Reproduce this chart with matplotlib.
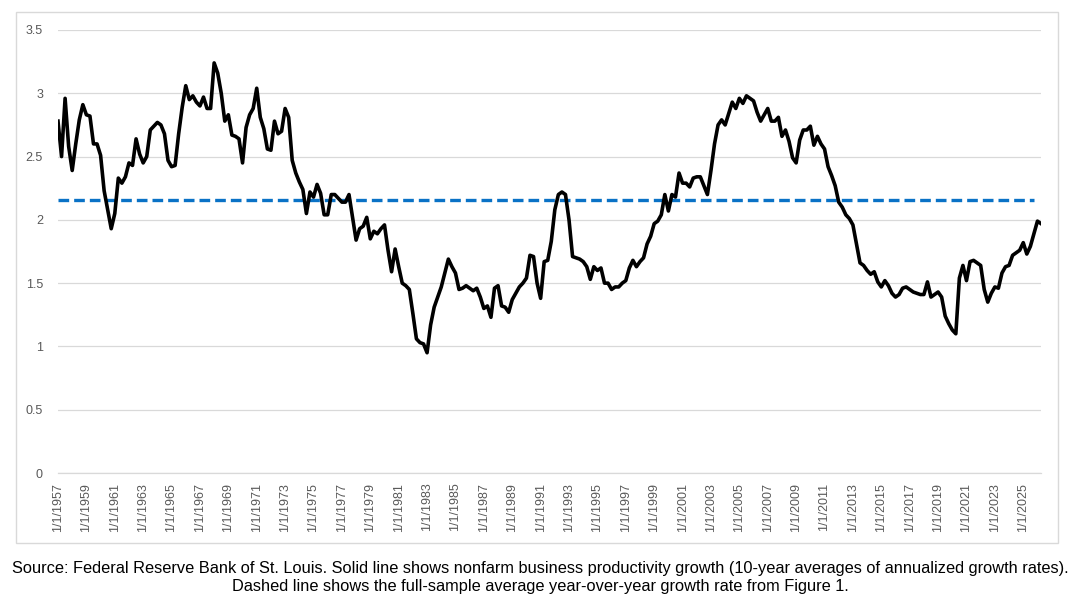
import numpy as np
import matplotlib.pyplot as plt
from matplotlib.patches import Rectangle

plt.rcParams['font.family'] = ['Liberation Sans', 'DejaVu Sans']

# 10-year average productivity growth, quarterly from 1957Q1
productivity = [
    2.78, 2.50, 2.96, 2.58, 2.39, 2.60, 2.79, 2.91,   # 1957-58
    2.83, 2.82, 2.60, 2.60, 2.51, 2.23, 2.08, 1.93,   # 1959-60
    2.05, 2.33, 2.29, 2.34, 2.45, 2.43, 2.64, 2.52,   # 1961-62
    2.45, 2.50, 2.71, 2.74, 2.77, 2.75, 2.68, 2.47,   # 1963-64
    2.42, 2.43, 2.68, 2.89, 3.06, 2.95, 2.98, 2.93,   # 1965-66
    2.90, 2.97, 2.88, 2.88, 3.24, 3.16, 3.00, 2.78,   # 1967-68
    2.83, 2.67, 2.66, 2.64, 2.45, 2.73, 2.83, 2.88,   # 1969-70
    3.04, 2.81, 2.72, 2.56, 2.55, 2.78, 2.68, 2.70,   # 1971-72
    2.88, 2.81, 2.47, 2.37, 2.30, 2.24, 2.05, 2.22,   # 1973-74
    2.18, 2.28, 2.21, 2.04, 2.04, 2.20, 2.20, 2.17,   # 1975-76
    2.14, 2.14, 2.20, 2.02, 1.84, 1.93, 1.95, 2.02,   # 1977-78
    1.85, 1.91, 1.89, 1.93, 1.96, 1.76, 1.59, 1.77,   # 1979-80
    1.63, 1.50, 1.48, 1.45, 1.26, 1.06, 1.03, 1.02,   # 1981-82
    0.95, 1.17, 1.31, 1.39, 1.47, 1.58, 1.69, 1.63,   # 1983-84
    1.58, 1.45, 1.46, 1.48, 1.46, 1.44, 1.46, 1.39,   # 1985-86
    1.30, 1.32, 1.23, 1.46, 1.48, 1.32, 1.31, 1.27,   # 1987-88
    1.37, 1.42, 1.47, 1.50, 1.54, 1.72, 1.71, 1.50,   # 1989-90
    1.38, 1.67, 1.68, 1.83, 2.08, 2.20, 2.22, 2.20,   # 1991-92
    2.00, 1.71, 1.70, 1.69, 1.67, 1.63, 1.53, 1.63,   # 1993-94
    1.60, 1.62, 1.50, 1.50, 1.45, 1.47, 1.47, 1.50,   # 1995-96
    1.52, 1.62, 1.68, 1.63, 1.67, 1.70, 1.81, 1.87,   # 1997-98
    1.97, 1.99, 2.04, 2.20, 2.07, 2.20, 2.18, 2.37,   # 1999-2000
    2.29, 2.29, 2.26, 2.33, 2.34, 2.34, 2.27, 2.20,   # 2001-02
    2.39, 2.60, 2.75, 2.79, 2.75, 2.84, 2.93, 2.88,   # 2003-04
    2.96, 2.92, 2.98, 2.96, 2.94, 2.85, 2.78, 2.83,   # 2005-06
    2.88, 2.78, 2.78, 2.81, 2.66, 2.71, 2.62, 2.49,   # 2007-08
    2.45, 2.63, 2.71, 2.71, 2.74, 2.59, 2.66, 2.60,   # 2009-10
    2.56, 2.42, 2.35, 2.27, 2.14, 2.10, 2.04, 2.01,   # 2011-12
    1.96, 1.81, 1.66, 1.64, 1.60, 1.57, 1.59, 1.51,   # 2013-14
    1.47, 1.52, 1.48, 1.42, 1.39, 1.41, 1.46, 1.47,   # 2015-16
    1.45, 1.43, 1.42, 1.41, 1.41, 1.51, 1.39, 1.41,   # 2017-18
    1.43, 1.39, 1.24, 1.18, 1.13, 1.10, 1.54, 1.64,   # 2019-20
    1.52, 1.67, 1.68, 1.66, 1.64, 1.45, 1.35, 1.42,   # 2021-22
    1.47, 1.46, 1.58, 1.63, 1.64, 1.72, 1.74, 1.76,   # 2023-24
    1.82, 1.73, 1.79, 1.89, 1.99, 1.97,               # 2025-26
]
full_sample_avg = 2.16

dates = 1957 + np.arange(len(productivity)) / 4
tick_years = list(range(1957, 2026, 2))
tick_labels = [f'1/1/{y}' for y in tick_years]

fig = plt.figure(figsize=(10.8, 6.02), dpi=100)

# light frame around the chart area
fig.patches.append(Rectangle((16 / 1080, 1 - 543 / 602), (1058 - 16) / 1080, (543 - 12) / 602,
                             transform=fig.transFigure, fill=False,
                             edgecolor='#d9d9d9', linewidth=1))

ax = fig.add_axes([58 / 1080, 1 - 473 / 602, (1041 - 58) / 1080, (473 - 30) / 602])

ax.plot(dates, productivity, color='black', linewidth=2.6, solid_joinstyle='round', zorder=3)
ax.hlines(full_sample_avg, dates[0], dates[-3], color='#0A72C6', linewidth=2.4,
          linestyles=(0, (3.2, 1.5)), zorder=2)

ax.set_xlim(dates[0], dates[-1])
ax.set_ylim(0, 3.5)
ax.set_yticks(np.arange(0, 3.51, 0.5))
ax.set_yticklabels(['0', '0.5', '1', '1.5', '2', '2.5', '3', '3.5'])
ax.set_xticks(tick_years)
ax.set_xticklabels(tick_labels, rotation=90)

ax.grid(axis='y', color='#d9d9d9', linewidth=0.9)
ax.axhline(0, color='#d9d9d9', linewidth=0.9, clip_on=False, zorder=1)
ax.set_axisbelow(True)
for s in ax.spines.values():
    s.set_visible(False)
ax.tick_params(axis='both', length=0, colors='#595959', labelsize=9)
ax.tick_params(axis='y', pad=10.8)
ax.tick_params(axis='x', pad=7)

fig.text(0.5, 1 - 568 / 602,
         'Source: Federal Reserve Bank of St. Louis. Solid line shows nonfarm business productivity growth '
         '(10-year averages of annualized growth rates).',
         ha='center', va='center', fontsize=11.8, color='black')
fig.text(0.5, 1 - 587 / 602,
         'Dashed line shows the full-sample average year-over-year growth rate from Figure 1.',
         ha='center', va='center', fontsize=11.8, color='black')

fig.savefig('out.png', dpi=100)
